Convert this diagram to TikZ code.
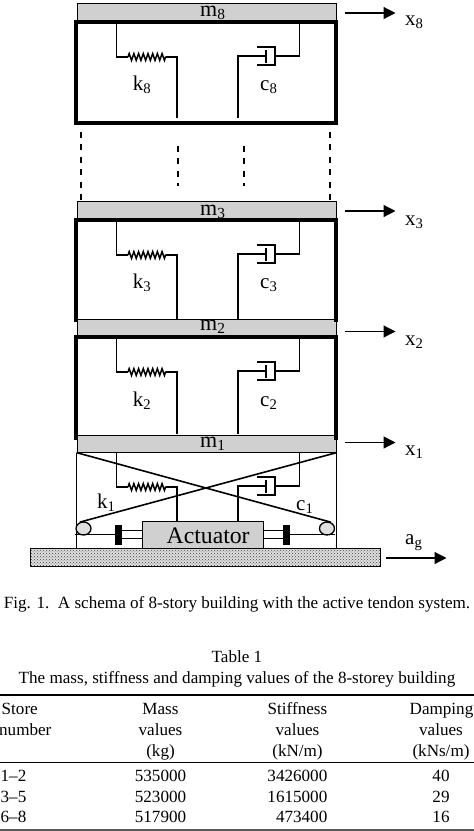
\documentclass[tikz,border=0pt]{standalone}
\usepackage{fontspec}
\setmainfont{Liberation Serif}
\usetikzlibrary{arrows.meta,positioning,shapes.geometric,patterns,decorations.pathmorphing}

\begin{document}
\begin{tikzpicture}[
  x=1pt, y=-1pt,
  >={Stealth[inset=0pt,length=12pt,width=12pt]},
  wire/.style={line width=1.1pt},
  frame/.style={line width=4pt},
  tendon/.style={line width=1.6pt},
  mass/.style={draw, line width=1.1pt, fill=gray!37, minimum width=259pt, minimum height=17pt, inner sep=0pt, anchor=north west},
  lab/.style={font=\fontsize{21}{23}\selectfont, inner sep=0pt, anchor=base west},
  captxt/.style={font=\fontsize{17.1}{19}\selectfont, inner sep=0pt, anchor=base},
  tab/.style={font=\fontsize{17.1}{19}\selectfont, inner sep=0pt, anchor=base},
  tabw/.style={tab, anchor=base west},
  tabe/.style={tab, anchor=base east},
  spring/.style={line width=1.5pt, decorate, decoration={zigzag, amplitude=3.4pt, segment length=4.7pt, pre length=0pt, post length=0pt}},
  hatch/.style={dash pattern=on 6pt off 6.5pt, line width=2pt}
]
\useasboundingbox (0,0) rectangle (474,831);

% masses
\foreach \n/\ytop in {8/3, 3/201, 2/319, 1/434.5}
  \node[mass] (m\n) at (76.5,\ytop) {};
\foreach \n/\ybase in {8/16, 3/215, 2/330, 1/447}
  \node[lab, font=\fontsize{22}{24}\selectfont] (mlab\n) at (200,\ybase) {m\textsubscript{\n}};

% storey walls
\coordinate (fa8) at (75.5,21.7);
\coordinate (fb8) at (335.5,122.7);
\draw[frame] (fa8) rectangle (fb8);
\foreach \n/\ya/\yb in {3/219.7/322, 2/337/440} {
  \coordinate (fa\n) at (75.5,\ya);
  \coordinate (fb\n) at (335.5,\yb);
  \draw[frame] (fa\n |- fb\n) -- (fa\n) -- (fb\n |- fa\n) -- (fb\n);
}

% springs and dampers
\foreach \n/\ya/\yb in {8/22/118, 3/220/319, 2/337/434, 1/452/521.7} {
  \coordinate (ka\n) at (116.7,\ya);
  \coordinate (ks\n) at (128,\ya+35);
  \coordinate (ke\n) at (166,\ya+35);
  \coordinate (kb\n) at (177,\yb);
  \coordinate (ca\n) at (299.5,\ya);
  \coordinate (cc\n) at (275,\ya+34);
  \coordinate (cp\n) at (266,\ya+34);
  \coordinate (cb\n) at (238,\yb);
  \draw[wire] (ka\n) |- (ks\n);
  \draw[spring] (ks\n) -- (ke\n);
  \draw[wire] (ke\n) -| (kb\n);
  \draw[wire] (ca\n) |- (cc\n);
  \draw[wire] (cb\n) |- (cp\n);
  \draw[line width=1.4pt] ([yshift=-6.5pt]cp\n) -- ([yshift=6.5pt]cp\n);
  \draw[line width=1.4pt] ([xshift=-18pt,yshift=9pt]cc\n) -- ([yshift=9pt]cc\n) -- ([yshift=-9pt]cc\n) -- ([xshift=-18pt,yshift=-9pt]cc\n);
}
\foreach \n/\ybase in {8/90, 3/288, 2/406} {
  \node[lab] (klab\n) at (132.7,\ybase) {k\textsubscript{\n}};
  \node[lab] (clab\n) at (260,\ybase) {c\textsubscript{\n}};
}
\node[lab] (klab1) at (97,508) {k\textsubscript{1}};
\node[lab] (clab1) at (296,510.5) {c\textsubscript{1}};

% dashed part of the building
\foreach \i/\x/\ya/\yb in {1/81/131.5/200, 2/177.5/145.5/186, 3/243.5/145.5/186, 4/329.5/131.5/200} {
  \coordinate (da\i) at (\x,\ya);
  \coordinate (db\i) at (\x,\yb);
  \draw[hatch] (da\i) -- (db\i);
}

% ground and actuator
\node[draw, line width=1.1pt, minimum width=350.5pt, minimum height=17.5pt, inner sep=0pt, anchor=north west, fill=gray!25, postaction={pattern=crosshatch dots, pattern color=black!75}] (gnd) at (29.5,548) {};
\node[draw, line width=1.1pt, fill=gray!37, minimum width=120.5pt, minimum height=26.5pt, inner sep=0pt] (act) at (203,535) {};
\node[lab, font=\fontsize{23.7}{26}\selectfont] (actlab) at (166.5,543) {Actuator};
\draw[wire] (m1.south west) -- (m1.south west |- gnd.north);
\draw[wire] (m1.south east) -- (m1.south east |- gnd.north);

% tendons
\node[draw, ellipse, line width=1.3pt, fill=gray!25, minimum width=15pt, minimum height=13pt, inner sep=0pt] (pulL) at (83.5,528.5) {};
\node[draw, ellipse, line width=1.3pt, fill=gray!25, minimum width=15pt, minimum height=13pt, inner sep=0pt] (pulR) at (327,528.5) {};
\node[draw, fill=black, minimum width=6pt, minimum height=19pt, inner sep=0pt] (brL) at (118.5,534.5) {};
\node[draw, fill=black, minimum width=6pt, minimum height=19pt, inner sep=0pt] (brR) at (286,534.5) {};
\draw[tendon] (m1.south west) -- (pulR.60);
\draw[tendon] (m1.south east) -- (pulL.120);
\draw[tendon] (pulL.west |- brL.west) -- (brL.west);
\draw[tendon] (pulR.east |- brR.east) -- (brR.east);
\draw[wire] ([yshift=4pt]brL.east) -- ([yshift=4pt]brL.east -| act.west);
\draw[wire] ([yshift=-4pt]brL.east) -- ([yshift=-4pt]brL.east -| act.west);
\draw[wire] ([yshift=4pt]brR.west) -- ([yshift=4pt]brR.west -| act.east);
\draw[wire] ([yshift=-4pt]brR.west) -- ([yshift=-4pt]brR.west -| act.east);

% displacement arrows
\foreach \n/\y/\ybase in {8/13/25, 3/211/225, 2/331.5/345, 1/442.5/455} {
  \coordinate (xa\n) at (345,\y);
  \coordinate (xb\n) at (395.5,\y);
  \draw[->, line width=1.2pt] (xa\n) -- (xb\n);
  \node[lab] (xlab\n) at (405,\ybase) {x\textsubscript{\n}};
}
\coordinate (aga) at (385.5,558);
\coordinate (agb) at (446.5,558);
\draw[->, line width=1.2pt] (aga) -- (agb);
\node[lab] (aglab) at (405,544) {a\textsubscript{g}};

% caption and table
\node[captxt] (figcap) at (237,608) {Fig. 1.\ \ A schema of 8-story building with the active tendon system.};
\node[captxt] (tabno) at (237,662.5) {Table 1};
\node[captxt] (tabcap) at (237,683) {The mass, stiffness and damping values of the 8-storey building};
\coordinate (ra) at (0,695);
\coordinate (rb) at (474,695);
\coordinate (rc) at (0,762.5);
\coordinate (rd) at (474,762.5);
\coordinate (re) at (0,830);
\coordinate (rf) at (474,830);
\draw[line width=1.6pt] (ra) -- (rb);
\draw[line width=1pt] (rc) -- (rd);
\draw[line width=1.8pt, black!65] (re) -- (rf);

\node[tabw] (hs1) at (1.5,714) {Store};
\node[tabw] (hs2) at (-1,735) {number};
\node[tab] (hm1) at (160.5,714) {Mass};
\node[tab] (hm2) at (160.5,735) {values};
\node[tab] (hm3) at (160.5,756.5) {(kg)};
\node[tab] (hk1) at (297.5,714) {Stiffness};
\node[tab] (hk2) at (297.5,735) {values};
\node[tab] (hk3) at (297.5,756.5) {(kN/m)};
\node[tabe] (hc1) at (473.5,714) {Damping};
\node[tab] (hc2) at (441,735) {values};
\node[tab] (hc3) at (441,756.5) {(kNs/m)};

\foreach \r/\y/\st/\ma/\ki/\dv in {1/781.5/1--2/535000/3426000/40, 2/802/3--5/523000/1615000/29, 3/822.5/6--8/517900/473400/16} {
  \node[tabw] (st\r) at (0.5,\y) {\st};
  \node[tab] (ma\r) at (160.5,\y) {\ma};
  \node[tabe] (ki\r) at (327.5,\y) {\ki};
  \node[tab] (dv\r) at (441,\y) {\dv};
}
\end{tikzpicture}
\end{document}
